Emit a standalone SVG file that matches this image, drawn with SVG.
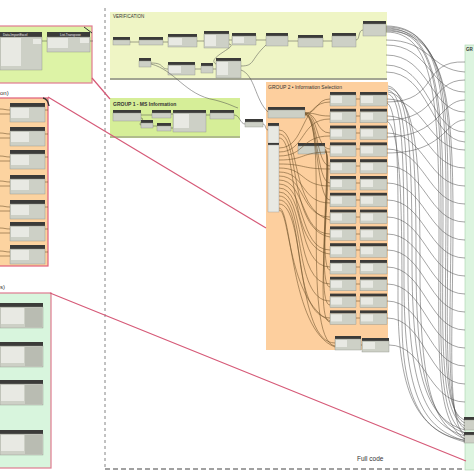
<svg xmlns="http://www.w3.org/2000/svg" width="474" height="474" viewBox="0 0 474 474">
<style>
.hd{fill:#3b3b39}
.bd{fill:#cdd0c6;stroke:#8d9088;stroke-width:.4}
.lt{fill:#e8e9e3}
.dk{fill:#b9bcb2}
.w{fill:none;stroke:#4a4a4a;stroke-width:.5}
.wb{fill:none;stroke:#6a4e28;stroke-width:.55}
.pk{fill:none;stroke:#d65a78;stroke-width:1.2}
.t{font-family:'Liberation Sans',Arial,sans-serif;fill:#333}
</style>
<rect width="474" height="474" fill="#fff"/>

<!-- left callout panels -->
<g id="panel-import">
<rect x="-2" y="26" width="94" height="57" fill="#ddf3a6" stroke="#e27b92" stroke-width="1.2"/>
<line x1="84" y1="27" x2="92" y2="33" stroke="#333" stroke-width="1"/>
<g id="n-importexcel"><rect class="hd" x="0" y="32" width="42" height="5"/><rect class="bd" x="0" y="37" width="42" height="33"/><rect class="lt" x="1" y="38" width="20" height="28"/><rect class="lt" x="33" y="39" width="8" height="5"/>
<text class="t" x="3" y="35.8" font-size="3.2" fill="#eee" style="fill:#eee">Data.ImportExcel</text></g>
<g id="n-transpose"><rect class="hd" x="47" y="32" width="43" height="5"/><rect class="bd" x="47" y="37" width="43" height="15"/><rect class="lt" x="48" y="38" width="20" height="10"/><rect class="lt" x="80" y="38" width="9" height="5"/>
<text class="t" x="60" y="35.8" font-size="3.2" style="fill:#eee">List.Transpose</text></g>
<path class="w" d="M42,41 H47 M90,41 H93"/>
</g>

<text class="t" x="0" y="95" font-size="6">on)</text>
<g id="panel-getitem">
<rect x="-2" y="98" width="50" height="168" fill="#fcd3a0" stroke="#e05f7a" stroke-width="1.2"/>
<path d="M43,98 Q48,99 49,106" fill="none" stroke="#333" stroke-width="1.4"/>
<g id="gi1"><rect class="hd" x="10" y="103" width="35" height="4"/><rect class="bd" x="10" y="107" width="35" height="15"/><rect class="lt" x="11" y="108" width="18" height="10"/></g>
<g id="gi2"><rect class="hd" x="10" y="127" width="35" height="4"/><rect class="bd" x="10" y="131" width="35" height="15"/><rect class="lt" x="11" y="132" width="18" height="10"/></g>
<g id="gi3"><rect class="hd" x="10" y="150" width="35" height="4"/><rect class="bd" x="10" y="154" width="35" height="15"/><rect class="lt" x="11" y="155" width="18" height="10"/></g>
<g id="gi4"><rect class="hd" x="10" y="175" width="35" height="4"/><rect class="bd" x="10" y="179" width="35" height="15"/><rect class="lt" x="11" y="180" width="18" height="10"/></g>
<g id="gi5"><rect class="hd" x="10" y="200" width="35" height="4"/><rect class="bd" x="10" y="204" width="35" height="15"/><rect class="lt" x="11" y="205" width="18" height="10"/></g>
<g id="gi6"><rect class="hd" x="10" y="222" width="35" height="4"/><rect class="bd" x="10" y="226" width="35" height="15"/><rect class="lt" x="11" y="227" width="18" height="10"/></g>
<g id="gi7"><rect class="hd" x="10" y="245" width="35" height="4"/><rect class="bd" x="10" y="249" width="35" height="15"/><rect class="lt" x="11" y="250" width="18" height="10"/></g>
<path class="wb" d="M0,109 C5,109 5,110 10,110 M0,114 H10 M0,133 C5,133 5,134 10,134 M0,138 H10 M0,156 C5,156 5,157 10,157 M0,161 H10 M0,181 C5,181 5,182 10,182 M0,186 H10 M0,206 C5,206 5,207 10,207 M0,211 H10 M0,228 C5,228 5,229 10,229 M0,233 H10 M0,251 C5,251 5,252 10,252 M0,256 H10 M45,110 H48 M45,134 H48 M45,157 H48 M45,182 H48 M45,207 H48 M45,229 H48 M45,252 H48"/>
</g>

<text class="t" x="0" y="289" font-size="6">s)</text>
<g id="panel-setparam">
<rect x="-2" y="293" width="53" height="175" fill="#d8f5dd" stroke="#e07a90" stroke-width="1.2"/>
<g id="sp1"><rect class="hd" x="0" y="303" width="43" height="4"/><rect class="bd" x="0" y="307" width="43" height="21"/><rect class="lt" x="1" y="308" width="23" height="16"/><rect class="dk" x="25" y="308" width="17" height="19"/></g>
<g id="sp2"><rect class="hd" x="0" y="342" width="43" height="4"/><rect class="bd" x="0" y="346" width="43" height="21"/><rect class="lt" x="1" y="347" width="23" height="16"/><rect class="dk" x="25" y="347" width="17" height="19"/></g>
<g id="sp3"><rect class="hd" x="0" y="380" width="43" height="4"/><rect class="bd" x="0" y="384" width="43" height="21"/><rect class="lt" x="1" y="385" width="23" height="16"/><rect class="dk" x="25" y="385" width="17" height="19"/></g>
<g id="sp4"><rect class="hd" x="0" y="430" width="43" height="4"/><rect class="bd" x="0" y="434" width="43" height="21"/><rect class="lt" x="1" y="435" width="23" height="16"/><rect class="dk" x="25" y="435" width="17" height="19"/></g>
</g>

<!-- full code frame -->
<path d="M105,8 V469" fill="none" stroke="#666" stroke-width=".8" stroke-dasharray="3,3"/>
<path d="M105,469 H474" fill="none" stroke="#444" stroke-width="1.2" stroke-dasharray="5,3"/>
<text class="t" x="357" y="461" font-size="6.5">Full code</text>

<!-- right green panel -->
<g id="group-right">
<rect x="465" y="45" width="12" height="425" fill="#dcf4df" stroke="#a8d4ac" stroke-width=".6"/>
<text class="t" x="466" y="51" font-size="4.5" font-weight="bold">GR</text>
<rect class="hd" x="464" y="417" width="12" height="3"/><rect class="bd" x="464" y="420" width="12" height="10"/>
<rect class="hd" x="464" y="432" width="12" height="3"/><rect class="bd" x="464" y="435" width="12" height="8"/>
</g>

<!-- VERIFICATION -->
<g id="group-verification">
<rect x="110" y="12" width="277" height="68" fill="#eff5c5"/>
<line x1="110" y1="79" x2="387" y2="79" stroke="#8a8a80" stroke-width="1.5"/>
<text class="t" x="113" y="18" font-size="4.5">VERIFICATION</text>
<g id="v1"><rect class="hd" x="113" y="37" width="17" height="3"/><rect class="bd" x="113" y="40" width="17" height="5"/></g>
<g id="v2"><rect class="hd" x="139" y="37" width="24" height="3"/><rect class="bd" x="139" y="40" width="24" height="5"/></g>
<g id="v3"><rect class="hd" x="168" y="34" width="29" height="3"/><rect class="bd" x="168" y="37" width="29" height="10"/><rect class="lt" x="169" y="38" width="13" height="7"/></g>
<g id="v4"><rect class="hd" x="204" y="31" width="25" height="3"/><rect class="bd" x="204" y="34" width="25" height="14"/><rect class="lt" x="205" y="35" width="11" height="11"/></g>
<g id="v5"><rect class="hd" x="232" y="33" width="24" height="3"/><rect class="bd" x="232" y="36" width="24" height="9"/><rect class="lt" x="233" y="37" width="11" height="6"/></g>
<g id="v6"><rect class="hd" x="266" y="33" width="22" height="3"/><rect class="bd" x="266" y="36" width="22" height="10"/></g>
<g id="v7"><rect class="hd" x="298" y="35" width="25" height="3"/><rect class="bd" x="298" y="38" width="25" height="9"/></g>
<g id="v8"><rect class="hd" x="332" y="33" width="24" height="3"/><rect class="bd" x="332" y="36" width="24" height="11"/></g>
<g id="v9"><rect class="hd" x="363" y="21" width="23" height="3"/><rect class="bd" x="363" y="24" width="23" height="12"/></g>
<g id="v10"><rect class="hd" x="139" y="58" width="12" height="3"/><rect class="bd" x="139" y="61" width="12" height="6"/></g>
<g id="v11"><rect class="hd" x="168" y="62" width="27" height="3"/><rect class="bd" x="168" y="65" width="27" height="10"/><rect class="lt" x="169" y="66" width="12" height="7"/></g>
<g id="v12"><rect class="hd" x="201" y="63" width="12" height="3"/><rect class="bd" x="201" y="66" width="12" height="7"/></g>
<g id="v13"><rect class="hd" x="216" y="58" width="25" height="3"/><rect class="bd" x="216" y="61" width="25" height="17"/><rect class="lt" x="217" y="62" width="11" height="13"/></g>
</g>

<!-- GROUP 1 -->
<g id="group-1">
<rect x="110" y="98" width="130" height="40" fill="#d6ee98"/>
<line x1="110" y1="137" x2="240" y2="137" stroke="#8a8a80" stroke-width="1"/>
<text class="t" x="113" y="106" font-size="5" font-weight="bold">GROUP 1 - MS Information</text>
<g id="g1n1"><rect class="hd" x="113" y="110" width="28" height="3"/><rect class="bd" x="113" y="113" width="28" height="8"/></g>
<g id="g1n2"><rect class="hd" x="152" y="110" width="19" height="3"/><rect class="bd" x="152" y="113" width="19" height="5"/></g>
<g id="g1n3"><rect class="hd" x="141" y="120" width="12" height="3"/><rect class="bd" x="141" y="123" width="12" height="5"/></g>
<g id="g1n4"><rect class="hd" x="157" y="123" width="14" height="3"/><rect class="bd" x="157" y="126" width="14" height="5"/></g>
<g id="g1n5"><rect class="hd" x="173" y="110" width="33" height="3"/><rect class="bd" x="173" y="113" width="33" height="19"/><rect class="lt" x="174" y="114" width="15" height="14"/></g>
<g id="g1n6"><rect class="hd" x="210" y="110" width="24" height="3"/><rect class="bd" x="210" y="113" width="24" height="6"/></g>
</g>
<g id="n-out1"><rect class="hd" x="245" y="119" width="18" height="3"/><rect class="bd" x="245" y="122" width="18" height="5"/></g>

<!-- GROUP 2 -->
<g id="group-2">
<rect x="266" y="82" width="122" height="268" fill="#fdcf9e"/>
<text class="t" x="268" y="89" font-size="5">GROUP 2 • Information Selection</text>
<g id="g2L1"><rect class="hd" x="268" y="107" width="37" height="3"/><rect class="bd" x="268" y="110" width="37" height="8"/></g>
<g id="g2L2"><rect class="hd" x="268" y="123" width="11" height="3"/><rect class="lt" x="268" y="126" width="11" height="17" stroke="#999" stroke-width=".4"/></g>
<g id="g2L3"><rect class="hd" x="268" y="143" width="11" height="2"/><rect class="lt" x="268" y="145" width="11" height="67" stroke="#999" stroke-width=".4"/></g>
<g id="g2M1"><rect class="hd" x="298" y="143" width="27" height="3"/><rect class="bd" x="298" y="146" width="27" height="8"/></g>
<g id="A0"><rect class="hd" x="330" y="92" width="26" height="3"/><rect class="bd" x="330" y="95" width="26" height="11"/><rect class="lt" x="331" y="96" width="11" height="7"/></g>
<g id="A1"><rect class="hd" x="330" y="108.8" width="26" height="3"/><rect class="bd" x="330" y="111.8" width="26" height="11"/><rect class="lt" x="331" y="112.8" width="11" height="7"/></g>
<g id="A2"><rect class="hd" x="330" y="125.6" width="26" height="3"/><rect class="bd" x="330" y="128.6" width="26" height="11"/><rect class="lt" x="331" y="129.6" width="11" height="7"/></g>
<g id="A3"><rect class="hd" x="330" y="142.4" width="26" height="3"/><rect class="bd" x="330" y="145.4" width="26" height="11"/><rect class="lt" x="331" y="146.4" width="11" height="7"/></g>
<g id="A4"><rect class="hd" x="330" y="159.2" width="26" height="3"/><rect class="bd" x="330" y="162.2" width="26" height="11"/><rect class="lt" x="331" y="163.2" width="11" height="7"/></g>
<g id="A5"><rect class="hd" x="330" y="176" width="26" height="3"/><rect class="bd" x="330" y="179" width="26" height="11"/><rect class="lt" x="331" y="180" width="11" height="7"/></g>
<g id="A6"><rect class="hd" x="330" y="192.8" width="26" height="3"/><rect class="bd" x="330" y="195.8" width="26" height="11"/><rect class="lt" x="331" y="196.8" width="11" height="7"/></g>
<g id="A7"><rect class="hd" x="330" y="209.6" width="26" height="3"/><rect class="bd" x="330" y="212.6" width="26" height="11"/><rect class="lt" x="331" y="213.6" width="11" height="7"/></g>
<g id="A8"><rect class="hd" x="330" y="226.4" width="26" height="3"/><rect class="bd" x="330" y="229.4" width="26" height="11"/><rect class="lt" x="331" y="230.4" width="11" height="7"/></g>
<g id="A9"><rect class="hd" x="330" y="243.2" width="26" height="3"/><rect class="bd" x="330" y="246.2" width="26" height="11"/><rect class="lt" x="331" y="247.2" width="11" height="7"/></g>
<g id="A10"><rect class="hd" x="330" y="260" width="26" height="3"/><rect class="bd" x="330" y="263" width="26" height="11"/><rect class="lt" x="331" y="264" width="11" height="7"/></g>
<g id="A11"><rect class="hd" x="330" y="276.8" width="26" height="3"/><rect class="bd" x="330" y="279.8" width="26" height="11"/><rect class="lt" x="331" y="280.8" width="11" height="7"/></g>
<g id="A12"><rect class="hd" x="330" y="293.6" width="26" height="3"/><rect class="bd" x="330" y="296.6" width="26" height="11"/><rect class="lt" x="331" y="297.6" width="11" height="7"/></g>
<g id="A13"><rect class="hd" x="330" y="310.4" width="26" height="3"/><rect class="bd" x="330" y="313.4" width="26" height="11"/><rect class="lt" x="331" y="314.4" width="11" height="7"/></g>
<g id="A14"><rect class="hd" x="335" y="336" width="26" height="3"/><rect class="bd" x="335" y="339" width="26" height="11"/><rect class="lt" x="336" y="340" width="11" height="7"/></g>
<g id="B0"><rect class="hd" x="360" y="92" width="27" height="3"/><rect class="bd" x="360" y="95" width="27" height="11"/><rect class="lt" x="361" y="96" width="12" height="7"/></g>
<g id="B1"><rect class="hd" x="360" y="108.8" width="27" height="3"/><rect class="bd" x="360" y="111.8" width="27" height="11"/><rect class="lt" x="361" y="112.8" width="12" height="7"/></g>
<g id="B2"><rect class="hd" x="360" y="125.6" width="27" height="3"/><rect class="bd" x="360" y="128.6" width="27" height="11"/><rect class="lt" x="361" y="129.6" width="12" height="7"/></g>
<g id="B3"><rect class="hd" x="360" y="142.4" width="27" height="3"/><rect class="bd" x="360" y="145.4" width="27" height="11"/><rect class="lt" x="361" y="146.4" width="12" height="7"/></g>
<g id="B4"><rect class="hd" x="360" y="159.2" width="27" height="3"/><rect class="bd" x="360" y="162.2" width="27" height="11"/><rect class="lt" x="361" y="163.2" width="12" height="7"/></g>
<g id="B5"><rect class="hd" x="360" y="176" width="27" height="3"/><rect class="bd" x="360" y="179" width="27" height="11"/><rect class="lt" x="361" y="180" width="12" height="7"/></g>
<g id="B6"><rect class="hd" x="360" y="192.8" width="27" height="3"/><rect class="bd" x="360" y="195.8" width="27" height="11"/><rect class="lt" x="361" y="196.8" width="12" height="7"/></g>
<g id="B7"><rect class="hd" x="360" y="209.6" width="27" height="3"/><rect class="bd" x="360" y="212.6" width="27" height="11"/><rect class="lt" x="361" y="213.6" width="12" height="7"/></g>
<g id="B8"><rect class="hd" x="360" y="226.4" width="27" height="3"/><rect class="bd" x="360" y="229.4" width="27" height="11"/><rect class="lt" x="361" y="230.4" width="12" height="7"/></g>
<g id="B9"><rect class="hd" x="360" y="243.2" width="27" height="3"/><rect class="bd" x="360" y="246.2" width="27" height="11"/><rect class="lt" x="361" y="247.2" width="12" height="7"/></g>
<g id="B10"><rect class="hd" x="360" y="260" width="27" height="3"/><rect class="bd" x="360" y="263" width="27" height="11"/><rect class="lt" x="361" y="264" width="12" height="7"/></g>
<g id="B11"><rect class="hd" x="360" y="276.8" width="27" height="3"/><rect class="bd" x="360" y="279.8" width="27" height="11"/><rect class="lt" x="361" y="280.8" width="12" height="7"/></g>
<g id="B12"><rect class="hd" x="360" y="293.6" width="27" height="3"/><rect class="bd" x="360" y="296.6" width="27" height="11"/><rect class="lt" x="361" y="297.6" width="12" height="7"/></g>
<g id="B13"><rect class="hd" x="360" y="310.4" width="27" height="3"/><rect class="bd" x="360" y="313.4" width="27" height="11"/><rect class="lt" x="361" y="314.4" width="12" height="7"/></g>
<g id="B14"><rect class="hd" x="362" y="338" width="27" height="3"/><rect class="bd" x="362" y="341" width="27" height="11"/><rect class="lt" x="363" y="342" width="12" height="7"/></g>
</g>

<!-- connectors -->
<g id="connectors">
<path class="w" d="M130,42 H139 M163,42 H168 M197,41 H204 M229,40 H232 M256,40 H266 M288,41 H298 M323,41 H332 M356,40 C360,40 358,30 363,30
M229,44 C240,46 205,58 216,64 M151,63 C165,63 160,69 168,69 M195,69 H201 M213,69 H216 M241,66 C255,66 250,60 266,45
M151,64 C175,70 185,95 215,100 C230,104 232,106 238,108
M241,70 C255,75 255,100 268,112
M141,115 H152 M141,118 C146,118 137,125 141,125 M153,126 H157 M171,114 H173 M171,128 H173 M206,115 H210 M234,115 C240,115 240,124 245,124 M263,124 C266,124 265,130 268,130"/>
<path class="wb" d="M305,113 C318,113 316,99 330,99 M305,113 C318,113 316,116 330,116 M305,113 C318,113 316,133 330,133 M305,113 C318,113 316,149 330,149 M305,114 C318,114 316,166 330,166 M305,114 C318,114 316,183 330,183 M305,114 C318,114 316,200 330,200
M279,148 C306,148 300,102 330,102 M279,152 C306,152 300,119 330,119 M279,156 C306,156 300,136 330,136 M279,160 C306,160 300,152 330,152 M279,164 C306,164 300,169 330,169 M279,168 C306,168 300,186 330,186 M279,172 C306,172 300,203 330,203
M279,176 C306,176 300,217 330,217 M279,180 C306,180 300,234 330,234 M279,184 C306,184 298,250 330,250 M279,188 C306,188 296,267 330,267 M279,192 C306,192 294,284 330,284 M279,196 C306,196 292,301 330,301 M279,200 C306,200 290,318 330,318 M279,204 C306,204 295,343 335,343
M279,130 C300,130 290,210 330,220 M279,134 C300,134 288,230 330,237 M279,138 C298,138 286,250 330,254 M325,149 C332,149 318,270 330,270 M325,150 C332,150 316,287 330,287 M325,151 C334,151 314,305 330,305 M325,152 C336,152 312,322 330,322 M305,115 C330,120 300,340 335,346
M279,208 C292,208 290,330 335,347 M279,210 C290,210 288,300 330,321
M356,99 H360 M356,116 H360 M356,133 H360 M356,149 H360 M356,166 H360 M356,183 H360 M356,200 H360 M356,217 H360 M356,234 H360 M356,250 H360 M356,267 H360 M356,284 H360 M356,301 H360 M356,318 H360 M361,345 H362"/>
<path class="w" d="M387,99 C425,99 428,150 465,150 M387,116 C425,116 428,168 465,168 M387,133 C425,133 428,186 465,186 M387,149 C425,149 428,204 465,204 M387,166 C425,166 428,222 465,222 M387,183 C425,183 428,240 465,240 M387,200 C425,200 428,258 465,258 M387,217 C425,217 428,276 465,276 M387,234 C425,234 428,294 465,294 M387,250 C425,250 428,312 465,312 M387,267 C425,267 428,330 465,330 M387,284 C425,284 428,348 465,348 M387,301 C425,301 428,366 465,366 M387,318 C425,318 428,384 465,384 M389,345 C425,345 428,402 465,402
M387,102 C440,102 420,60 465,62 M387,120 C440,120 430,80 465,80 M387,137 C440,137 440,100 465,100 M387,153 C445,153 445,120 465,120
M386,40 C430,40 430,70 465,72 M386,45 C430,45 430,92 465,92 M386,55 C430,55 430,112 465,112 M386,65 C430,65 430,132 465,132 M386,72 C430,72 430,140 465,142
M386,26 C440,26 446,90 446,200 C446,330 440,412 465,420 M386,27 C442,27 448,92 448,200 C448,330 442,414 465,423 M386,28 C436,28 443,94 443,210 C443,330 438,414 465,426 M386,29 C444,29 451,96 451,210 C451,330 444,416 465,429 M386,30 C438,30 441,98 441,220 C441,340 436,418 465,433 M386,31 C446,31 453,100 453,220 C453,340 446,420 465,436 M386,32 C434,32 439,100 439,230 C439,350 434,420 465,439
M388,86 C410,90 412,160 412,260 C412,380 428,420 465,430 M388,88 C414,92 416,160 416,260 C416,380 430,422 465,433 M388,90 C406,94 408,160 408,270 C408,390 426,424 465,436 M388,92 C418,96 420,170 420,270 C420,390 434,426 465,439 M388,94 C404,98 404,170 404,280 C404,400 424,428 465,441
M387,103 C400,110 398,200 398,300 C398,400 420,430 465,442 M387,121 C402,130 402,220 402,320 C402,410 430,436 465,440"/>
<path class="pk" d="M92,78 L110,99 M48,97 L266,228 M50,293 L466,461"/>
</g>
</svg>
